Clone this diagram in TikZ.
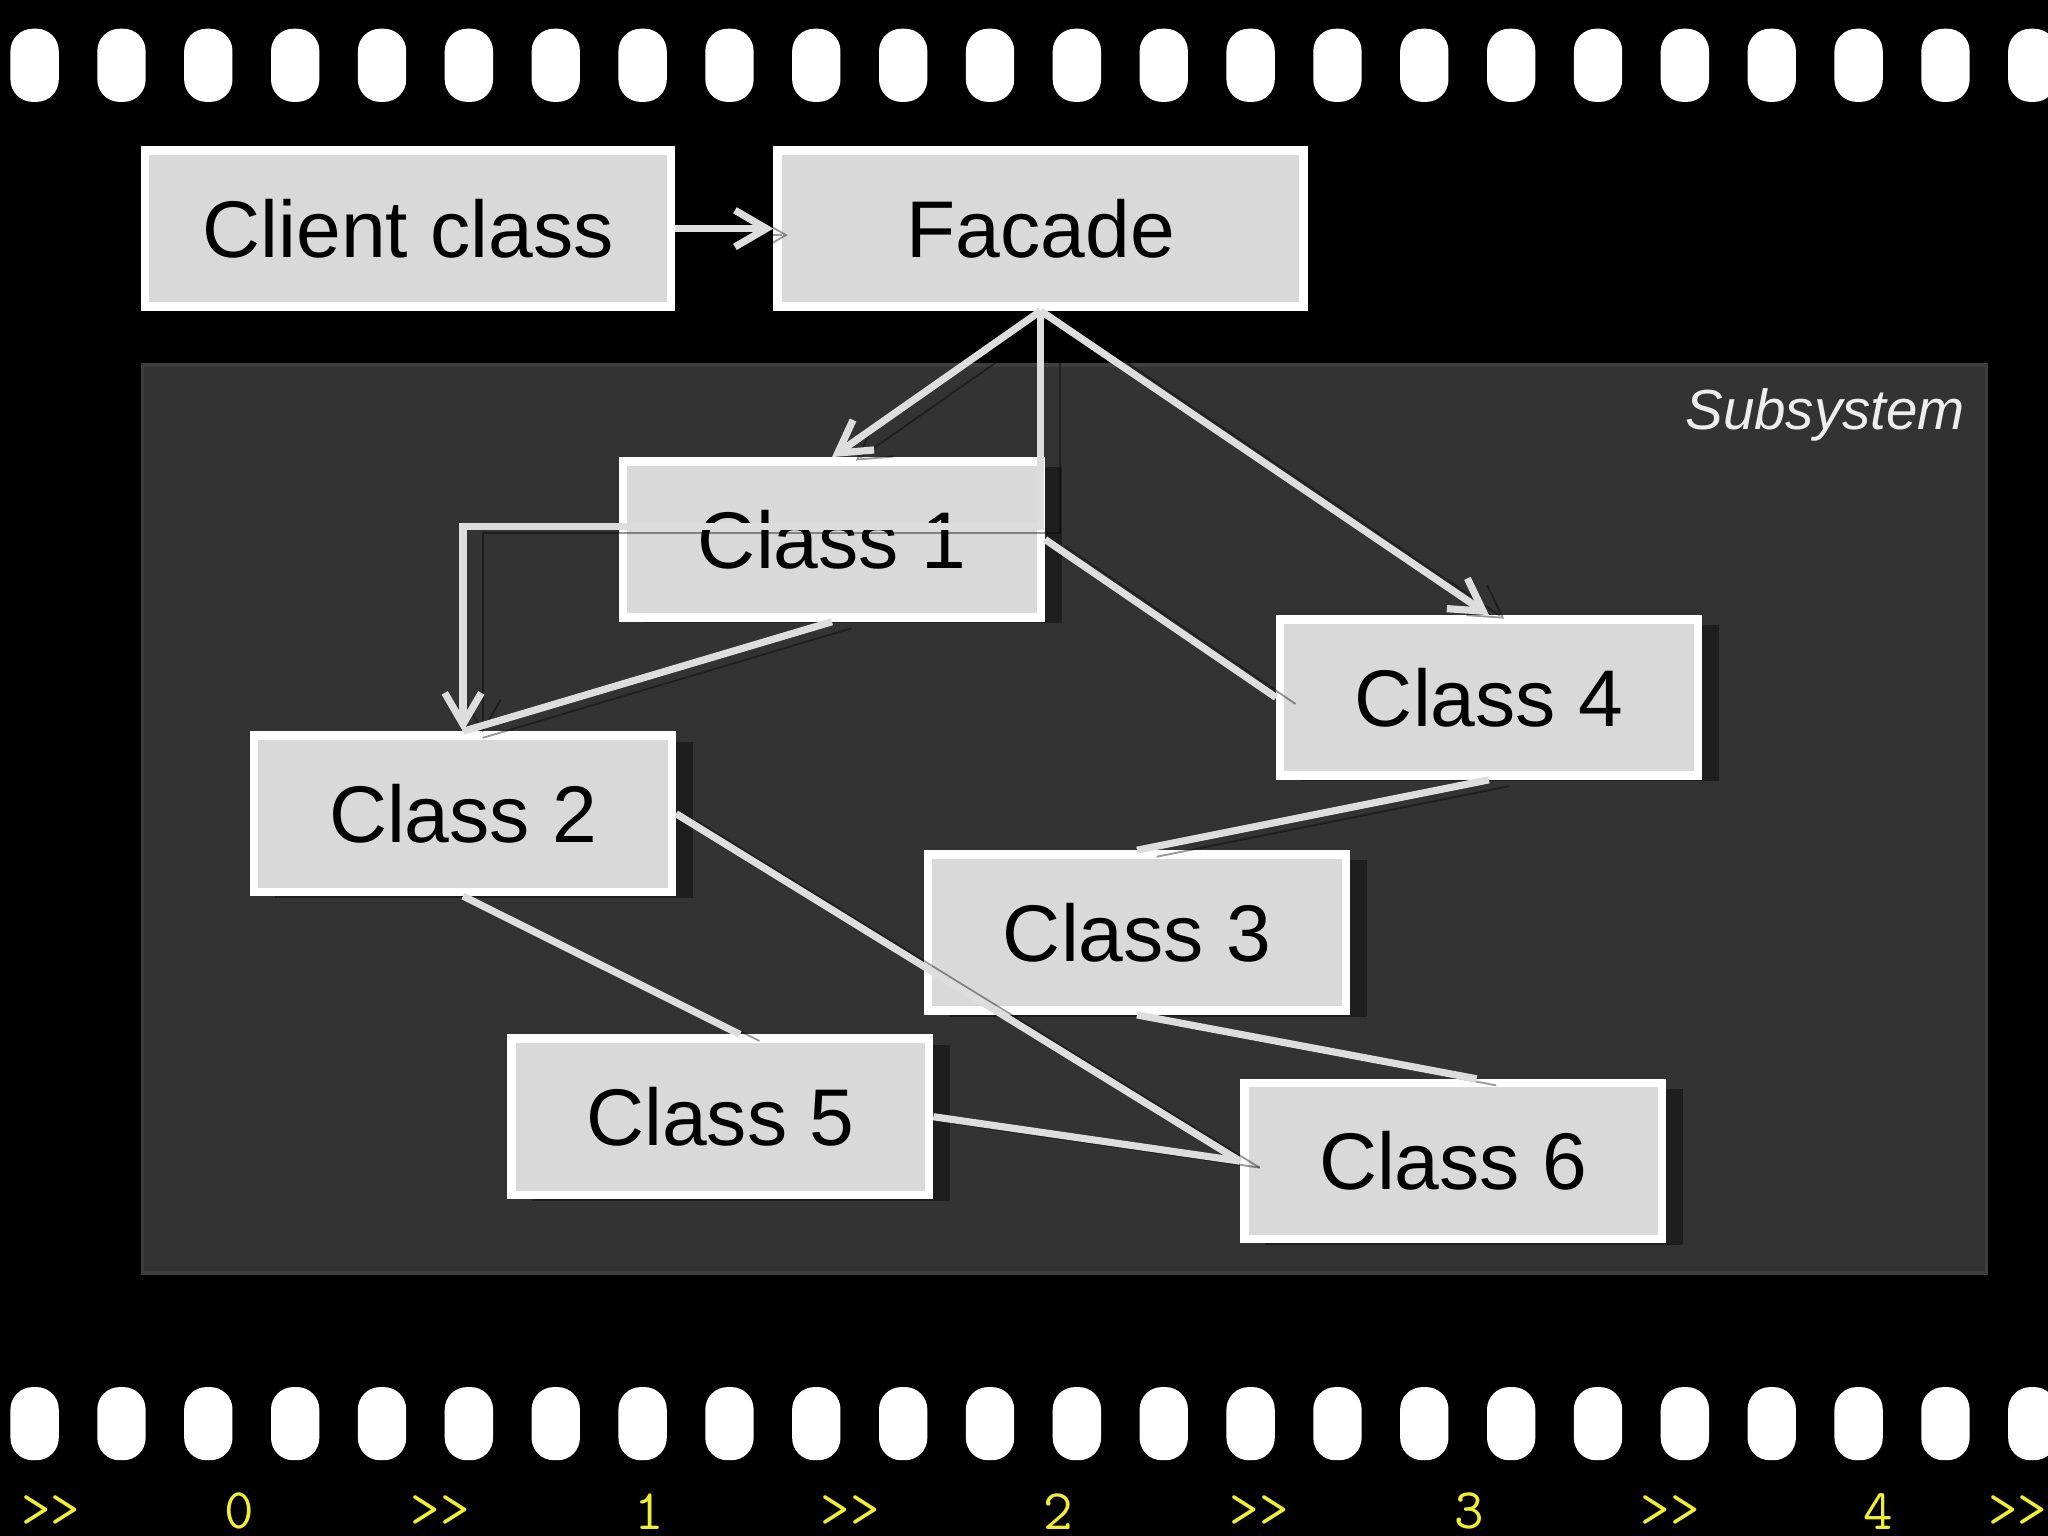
\documentclass[tikz,border=0pt]{standalone}
\usepackage{fontspec}
\setmainfont{Liberation Sans}
\usetikzlibrary{
  positioning,
  shadows,
  arrows.meta
}
\definecolor{boxfill}{HTML}{D9D9D9}
\definecolor{wirecol}{HTML}{DDDDDD}
\definecolor{subsysfill}{HTML}{333333}
\definecolor{subsysedge}{HTML}{3E3E3E}
\definecolor{tapeyellow}{HTML}{F0F030}

\tikzset{
  cls/.style={rectangle, draw=white, line width=0.065cm, fill=boxfill,
    inner sep=0pt, minimum width=3.195cm, minimum height=1.195cm,
    font=\fontsize{17.5}{20}\selectfont,
    drop shadow={shadow xshift=0.16cm, shadow yshift=-0.045cm, opacity=0.4, fill=black}},
  topcls/.style={cls, minimum width=4.025cm},
  wire/.style={draw=wirecol, line width=0.055cm,
    preaction={draw=black, opacity=0.4, transform canvas={xshift=0.15cm, yshift=-0.05cm}}},
  uses/.style={wire, -{Straight Barb[length=0.24cm, width=0.28cm]}},
  hole/.style={fill=white, rounded corners=0.17cm},
  tape/.style={text=tapeyellow, inner sep=0pt, font=\ttfamily\fontsize{12.5}{14}\selectfont}
}

\begin{document}
\begin{tikzpicture}[x=0.01cm, y=-0.01cm, node distance=0.75cm]
    \fill[black] (0,0) rectangle (1568,1176);
    \clip (0,0) rectangle (1568,1176);

    % film strip
    \foreach \i in {0,...,23} {
      \fill[hole] (8+66.5*\i,22) rectangle ++(37,56);
      \fill[hole] (8+66.5*\i,1062) rectangle ++(37,56);
    }
    \foreach \x/\t [count=\k] in {39/{{>}{>}}, 183/0, 337/{{>}{>}}, 497/1, 651/{{>}{>}},
        810/2, 964/{{>}{>}}, 1125/3, 1279/{{>}{>}}, 1438/4, 1545/{{>}{>}}}
      \node[tape] (tape\k) at (\x,1157) {\t};

    % subsystem
    \node[draw=subsysedge, line width=0.03cm, fill=subsysfill, inner sep=0pt,
      minimum width=14.11cm, minimum height=6.95cm] (subsys) at (815,627) {};
    \node[anchor=east, inner sep=0pt, text=white!93!black, font=\itshape\fontsize{12.3}{14}\selectfont]
      (subsyslabel) at (1505,318) {Subsystem};

    \node[topcls] (client) at (312.5,175) {Client class};
    \node[topcls, right = of client] (facade) {Facade};

    \node[cls] (class1) at (637,413) {Class 1};
    \node[cls] (class4) at (1140,534) {Class 4};
    \node[cls] (class2) at (354.5,623) {Class 2};
    \node[cls] (class3) at (870.5,714) {Class 3};
    \node[cls] (class5) at (551.5,855) {Class 5};
    \node[cls] (class6) at (1112.5,889) {Class 6};

    \draw[uses] (client) -- (facade);
    \draw[uses] (facade.south) -- (class1.north);
    \draw[uses] (facade.south) -- ++(0,165) -| (class2.north);
    \draw[uses] (facade.south) -- (class4.north);

    \draw[wire] (class1.east) -- (class4.west);
    \draw[wire] (class1.south) -- (class2.north);
    \draw[wire] (class4.south) -- (class3.north);
    \draw[wire] (class2.east) -- (class6.west);
    \draw[wire] (class2.south) -- ([xshift=0.15cm]class5.north);
    \draw[wire] (class3.south) -- ([xshift=0.18cm]class6.north);
    \draw[wire] (class5.east) -- (class6.west);
\end{tikzpicture}
\end{document}
